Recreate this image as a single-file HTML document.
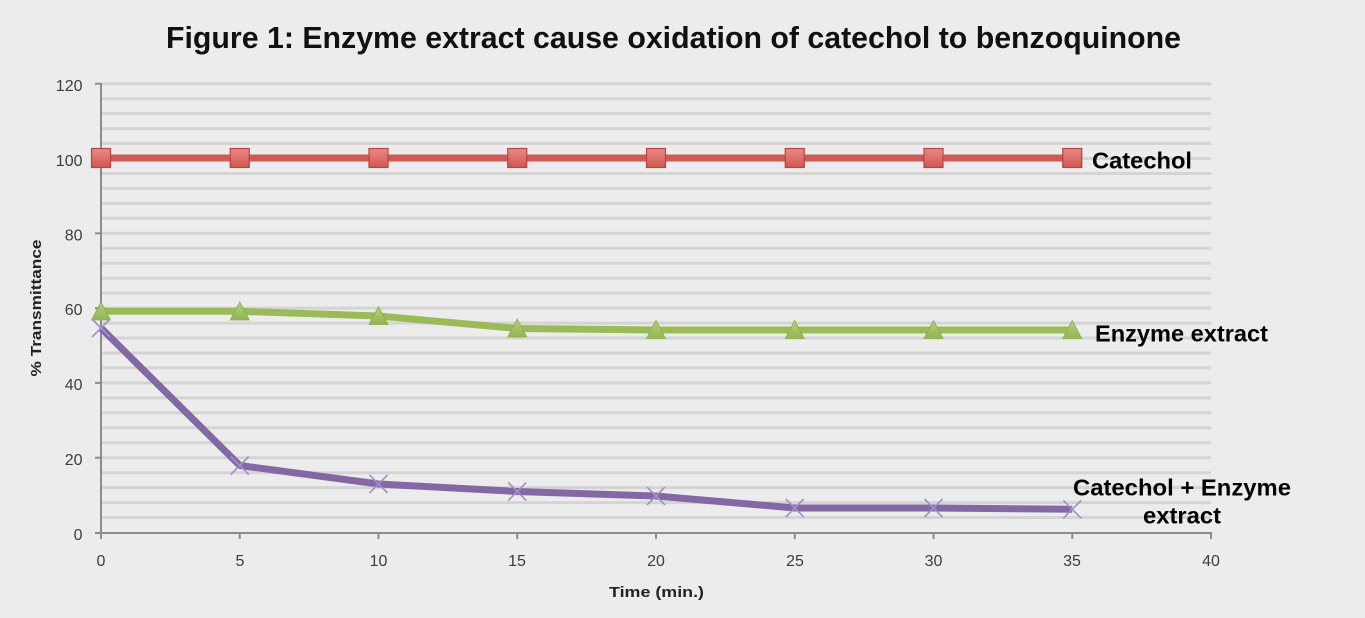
<!DOCTYPE html>
<html>
<head>
<meta charset="utf-8">
<style>
html,body{margin:0;padding:0;background:#ececec;}
svg{display:block;}
text{font-family:"Liberation Sans",Arial,sans-serif;}
</style>
</head>
<body>
<svg width="1365" height="618" viewBox="0 0 1365 618" xmlns="http://www.w3.org/2000/svg">
<defs>
<linearGradient id="gr" x1="0" y1="0" x2="0" y2="1">
<stop offset="0" stop-color="#e98a86"/>
<stop offset="1" stop-color="#cf5551"/>
</linearGradient>
<linearGradient id="gg" x1="0" y1="0" x2="0" y2="1">
<stop offset="0" stop-color="#b4d27a"/>
<stop offset="1" stop-color="#92b552"/>
</linearGradient>
</defs>
<rect x="0" y="0" width="1365" height="618" fill="#ececec"/>

<!-- title -->
<text x="166" y="48" font-size="31" font-weight="bold" fill="#111" textLength="1015" lengthAdjust="spacingAndGlyphs">Figure 1: Enzyme extract cause oxidation of catechol to benzoquinone</text>

<!-- gridlines -->
<g stroke="#d4d4d4" stroke-width="3">
<line x1="101" x2="1211" y1="83.7" y2="83.7"/>
<line x1="101" x2="1211" y1="98.7" y2="98.7"/>
<line x1="101" x2="1211" y1="113.6" y2="113.6"/>
<line x1="101" x2="1211" y1="128.6" y2="128.6"/>
<line x1="101" x2="1211" y1="143.5" y2="143.5"/>
<line x1="101" x2="1211" y1="158.5" y2="158.5"/>
<line x1="101" x2="1211" y1="173.5" y2="173.5"/>
<line x1="101" x2="1211" y1="188.4" y2="188.4"/>
<line x1="101" x2="1211" y1="203.4" y2="203.4"/>
<line x1="101" x2="1211" y1="218.3" y2="218.3"/>
<line x1="101" x2="1211" y1="233.3" y2="233.3"/>
<line x1="101" x2="1211" y1="248.3" y2="248.3"/>
<line x1="101" x2="1211" y1="263.2" y2="263.2"/>
<line x1="101" x2="1211" y1="278.2" y2="278.2"/>
<line x1="101" x2="1211" y1="293.1" y2="293.1"/>
<line x1="101" x2="1211" y1="308.1" y2="308.1"/>
<line x1="101" x2="1211" y1="323.1" y2="323.1"/>
<line x1="101" x2="1211" y1="338.0" y2="338.0"/>
<line x1="101" x2="1211" y1="353.0" y2="353.0"/>
<line x1="101" x2="1211" y1="367.9" y2="367.9"/>
<line x1="101" x2="1211" y1="382.9" y2="382.9"/>
<line x1="101" x2="1211" y1="397.9" y2="397.9"/>
<line x1="101" x2="1211" y1="412.8" y2="412.8"/>
<line x1="101" x2="1211" y1="427.8" y2="427.8"/>
<line x1="101" x2="1211" y1="442.7" y2="442.7"/>
<line x1="101" x2="1211" y1="457.7" y2="457.7"/>
<line x1="101" x2="1211" y1="472.7" y2="472.7"/>
<line x1="101" x2="1211" y1="487.6" y2="487.6"/>
<line x1="101" x2="1211" y1="502.6" y2="502.6"/>
<line x1="101" x2="1211" y1="517.5" y2="517.5"/>
</g>

<!-- axes -->
<g stroke="#8c8c8c" stroke-width="2" fill="none">
<line x1="101" y1="83" x2="101" y2="533.5"/>
<line x1="100" y1="533" x2="1212" y2="533"/>
<line x1="95" y1="83.7" x2="101" y2="83.7"/>
<line x1="95" y1="158.5" x2="101" y2="158.5"/>
<line x1="95" y1="233.3" x2="101" y2="233.3"/>
<line x1="95" y1="308.1" x2="101" y2="308.1"/>
<line x1="95" y1="382.9" x2="101" y2="382.9"/>
<line x1="95" y1="457.7" x2="101" y2="457.7"/>
<line x1="95" y1="533" x2="101" y2="533"/>
<line x1="101" y1="533" x2="101" y2="539"/>
<line x1="239.75" y1="533" x2="239.75" y2="539"/>
<line x1="378.5" y1="533" x2="378.5" y2="539"/>
<line x1="517.25" y1="533" x2="517.25" y2="539"/>
<line x1="656" y1="533" x2="656" y2="539"/>
<line x1="794.75" y1="533" x2="794.75" y2="539"/>
<line x1="933.5" y1="533" x2="933.5" y2="539"/>
<line x1="1072.25" y1="533" x2="1072.25" y2="539"/>
<line x1="1211" y1="533" x2="1211" y2="539"/>
</g>

<!-- y tick labels -->
<g font-size="16" fill="#3c3c3c" text-anchor="end">
<text x="82.5" y="91">120</text>
<text x="82.5" y="166">100</text>
<text x="82.5" y="240.5">80</text>
<text x="82.5" y="315">60</text>
<text x="82.5" y="390">40</text>
<text x="82.5" y="465">20</text>
<text x="82.5" y="540">0</text>
</g>
<!-- x tick labels -->
<g font-size="16" fill="#3c3c3c" text-anchor="middle">
<text x="101" y="566">0</text>
<text x="240" y="566">5</text>
<text x="378.5" y="566">10</text>
<text x="517" y="566">15</text>
<text x="656" y="566">20</text>
<text x="795" y="566">25</text>
<text x="933.5" y="566">30</text>
<text x="1072" y="566">35</text>
<text x="1211" y="566">40</text>
</g>

<!-- axis titles -->
<text x="656.5" y="597" font-size="15" font-weight="bold" fill="#222" text-anchor="middle" textLength="95" lengthAdjust="spacingAndGlyphs">Time (min.)</text>
<text transform="translate(41,308) rotate(-90)" font-size="15" font-weight="bold" fill="#222" text-anchor="middle" textLength="137" lengthAdjust="spacingAndGlyphs">% Transmittance</text>

<!-- Catechol series -->
<polyline fill="none" stroke="#cf5955" stroke-width="7" stroke-linejoin="round" points="101,158 239.75,158 378.5,158 517.25,158 656,158 794.75,158 933.5,158 1072.25,158"/>
<g fill="url(#gr)" stroke="#b9433f" stroke-width="1.2">
<rect x="91.5" y="148.5" width="19" height="19"/>
<rect x="230.25" y="148.5" width="19" height="19"/>
<rect x="369" y="148.5" width="19" height="19"/>
<rect x="507.75" y="148.5" width="19" height="19"/>
<rect x="646.5" y="148.5" width="19" height="19"/>
<rect x="785.25" y="148.5" width="19" height="19"/>
<rect x="924" y="148.5" width="19" height="19"/>
<rect x="1062.75" y="148.5" width="19" height="19"/>
</g>

<!-- Enzyme extract series -->
<polyline fill="none" stroke="#9bbb59" stroke-width="7" stroke-linejoin="round" points="101,311.3 239.75,311.3 378.5,316 517.25,328.5 656,330 794.75,330 933.5,330 1072.25,330"/>
<g fill="url(#gg)" stroke="#8aab4a" stroke-width="0.8">
<polygon points="101,302 110.5,320 91.5,320"/>
<polygon points="239.75,302 249.25,320 230.25,320"/>
<polygon points="378.5,306.5 388,324.5 369,324.5"/>
<polygon points="517.25,319 526.75,337 507.75,337"/>
<polygon points="656,320.5 665.5,338.5 646.5,338.5"/>
<polygon points="794.75,320.5 804.25,338.5 785.25,338.5"/>
<polygon points="933.5,320.5 943,338.5 924,338.5"/>
<polygon points="1072.25,320.5 1081.75,338.5 1062.75,338.5"/>
</g>

<!-- Catechol + Enzyme series -->
<polyline fill="none" stroke="#8468a6" stroke-width="7" stroke-linejoin="round" points="101,328 239.75,465.5 378.5,484 517.25,491.5 656,496 794.75,508 933.5,508 1072.25,509.3"/>
<g stroke="#a390c8" stroke-width="1.6" fill="none">
<path d="M92,319 L110,337 M110,319 L92,337"/>
<path d="M230.75,456.5 L248.75,474.5 M248.75,456.5 L230.75,474.5"/>
<path d="M369.5,475 L387.5,493 M387.5,475 L369.5,493"/>
<path d="M508.25,482.5 L526.25,500.5 M526.25,482.5 L508.25,500.5"/>
<path d="M647,487 L665,505 M665,487 L647,505"/>
<path d="M785.75,499 L803.75,517 M803.75,499 L785.75,517"/>
<path d="M924.5,499 L942.5,517 M942.5,499 L924.5,517"/>
<path d="M1063.25,500.3 L1081.25,518.3 M1081.25,500.3 L1063.25,518.3"/>
</g>

<!-- series labels -->
<g font-size="23" font-weight="bold" fill="#000">
<text x="1092" y="168.5" textLength="100" lengthAdjust="spacingAndGlyphs">Catechol</text>
<text x="1095" y="341.5" textLength="173" lengthAdjust="spacingAndGlyphs">Enzyme extract</text>
<text x="1182" y="495.5" text-anchor="middle" textLength="218" lengthAdjust="spacingAndGlyphs">Catechol + Enzyme</text>
<text x="1182" y="523.5" text-anchor="middle" textLength="78" lengthAdjust="spacingAndGlyphs">extract</text>
</g>
</svg>
</body>
</html>
